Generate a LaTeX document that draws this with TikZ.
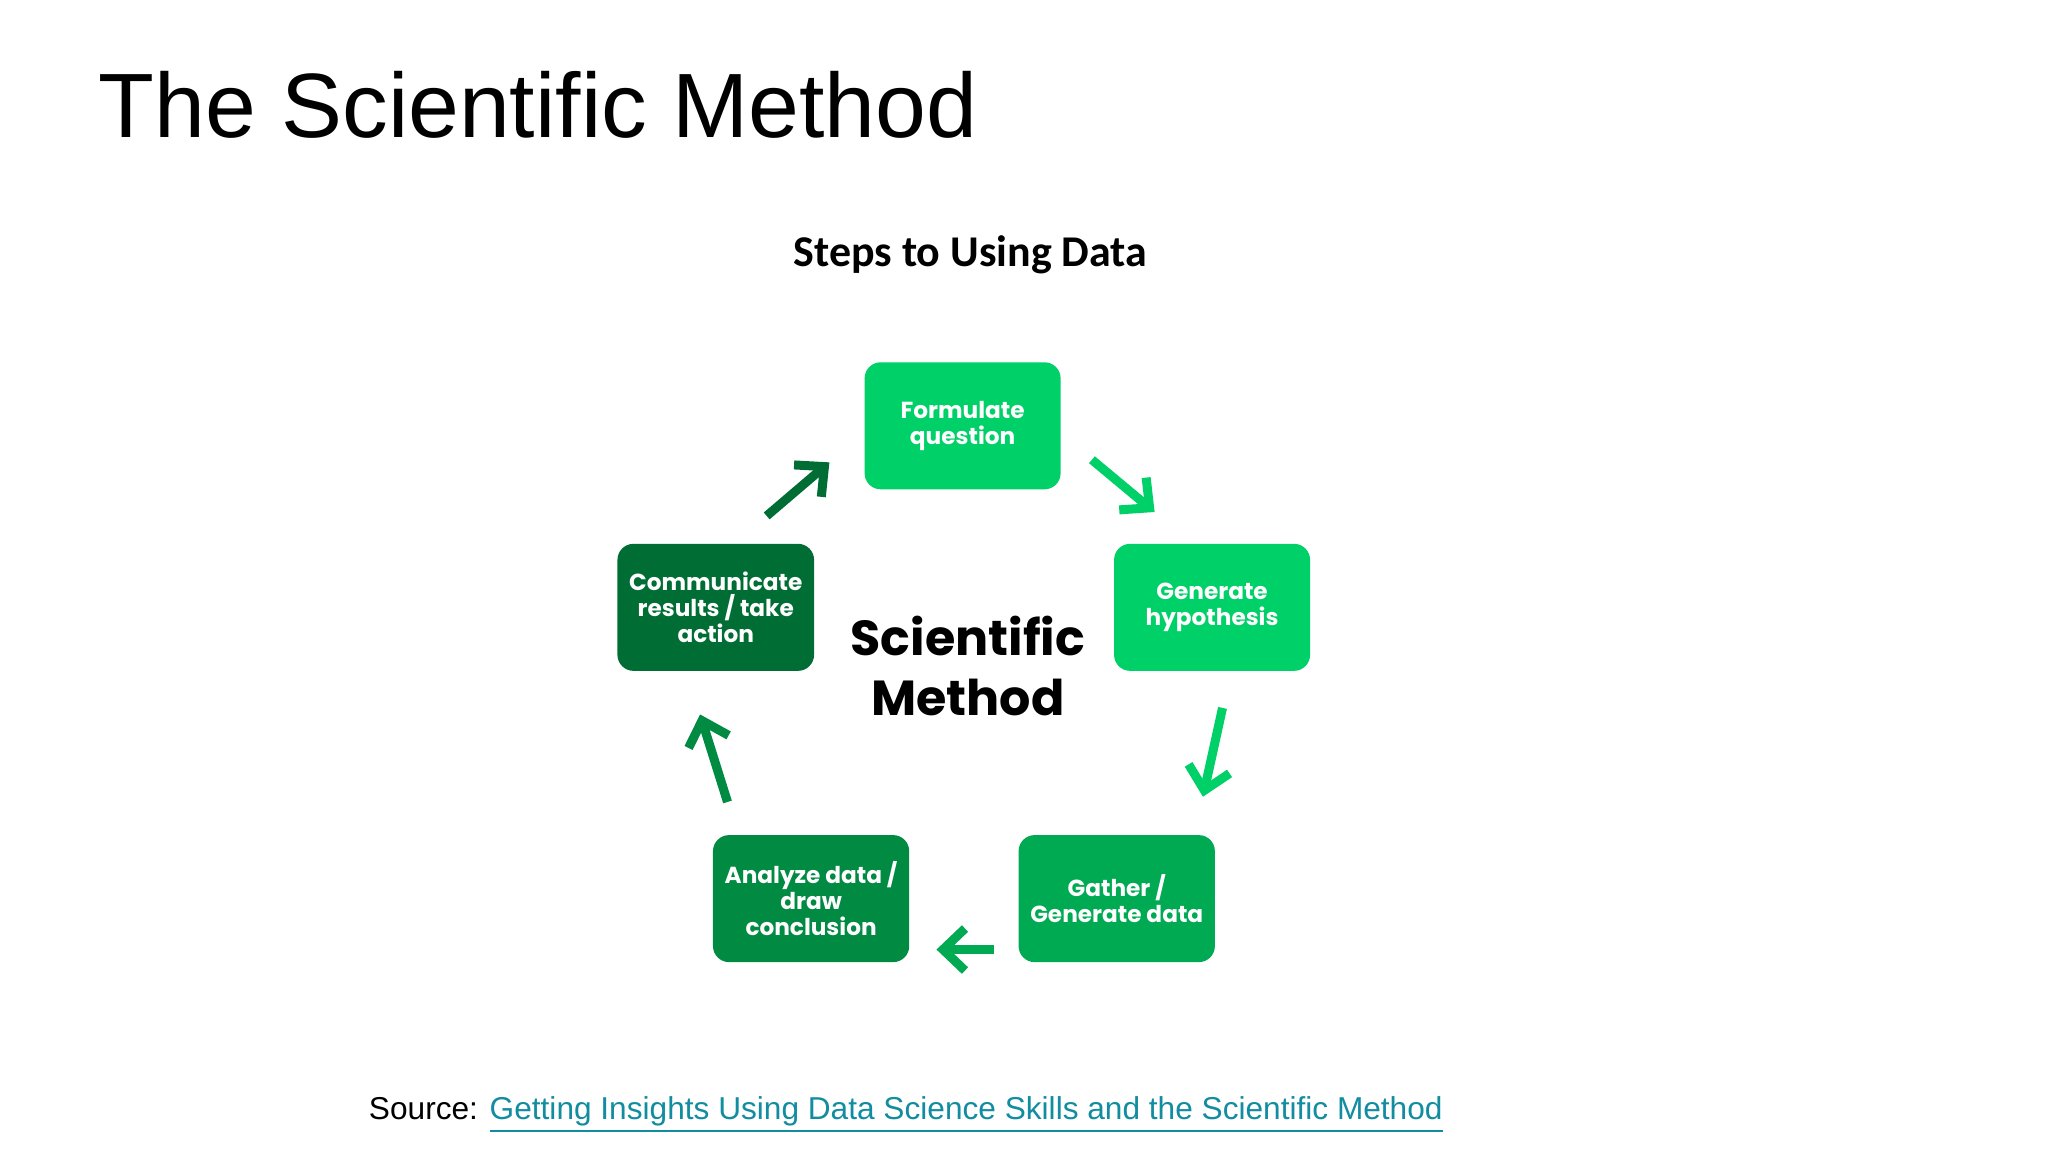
\documentclass[tikz,border=0pt]{standalone}
\usepackage{fontspec}
\setmainfont{Liberation Sans}
\newfontfamily\boxfont{Poppins}
\newfontfamily\headfont{Carlito}
\usetikzlibrary{arrows.meta}
\definecolor{gbright}{RGB}{0,208,104}
\definecolor{gmid}{RGB}{0,170,82}
\definecolor{gdark}{RGB}{0,138,66}
\definecolor{gdeep}{RGB}{0,110,52}
\definecolor{linkc}{RGB}{17,140,160}
\tikzset{
  stepbox/.style={rounded corners=0.16cm, minimum width=1.96cm, minimum height=1.27cm,
    text=white, align=center, font=\boxfont\fontsize{6.6}{7.4}\selectfont\bfseries},
  cycarrow/.style={line width=0.09cm, -{Straight Barb[length=0.22cm, width=0.42cm, line width=0.09cm]}}
}
\begin{document}
\begin{tikzpicture}[x=0.01306cm, y=-0.01306cm]
\useasboundingbox (0,0) rectangle (1568,882);
\node[anchor=base west, font=\fontsize{26}{30}\selectfont] (title) at (66,105) {The Scientific Method};
\node[font=\headfont\fontsize{12.5}{14}\selectfont\bfseries] (head) at (743,195) {Steps to Using Data};

\node[stepbox, fill=gbright] (fq) at (737,326) {Formulate\\question};
\node[stepbox, fill=gbright] (gh) at (928,465) {Generate\\hypothesis};
\node[stepbox, fill=gmid] (gd) at (855,688) {Gather /\\Generate data};
\node[stepbox, fill=gdark] (ad) at (621,688) {Analyze data /\\draw\\conclusion};
\node[stepbox, fill=gdeep] (cr) at (548,465) {Communicate\\results / take\\action};
\node[font=\boxfont\fontsize{14}{17}\selectfont\bfseries, align=center] (sm) at (741,510) {Scientific\\Method};

\coordinate (a1s) at (836,352); \coordinate (a1e) at (884,392);
\coordinate (a2s) at (936,542); \coordinate (a2e) at (921,610);
\coordinate (a3s) at (761,727); \coordinate (a3e) at (717,727);
\coordinate (a4s) at (557,614); \coordinate (a4e) at (536,547);
\coordinate (a5s) at (587,395); \coordinate (a5e) at (635,354);
\draw[cycarrow, gbright] (a1s) -- (a1e);
\draw[cycarrow, gbright] (a2s) -- (a2e);
\draw[cycarrow, gmid] (a3s) -- (a3e);
\draw[cycarrow, gdark] (a4s) -- (a4e);
\draw[cycarrow, gdeep] (a5s) -- (a5e);

\node[anchor=base west, font=\fontsize{9}{11}\selectfont] (src) at (273,857)
  {Source: \textcolor{linkc}{\underline{Getting Insights Using Data Science Skills and the Scientific Method}}};
\end{tikzpicture}
\end{document}
